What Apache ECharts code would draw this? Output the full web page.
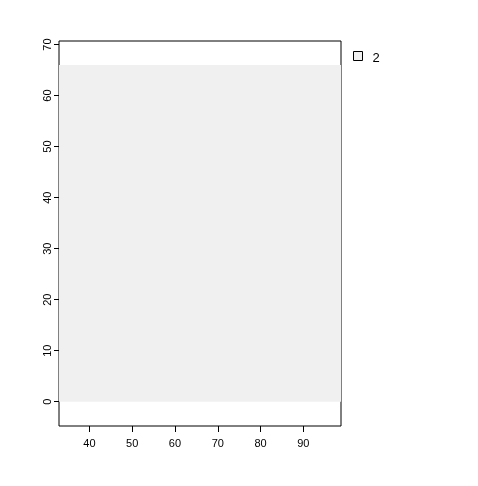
<!DOCTYPE html>
<html>
<head>
<meta charset="utf-8">
<script src="https://cdn.jsdelivr.net/npm/echarts@6/dist/echarts.min.js"></script>
<style>html,body{margin:0;padding:0;background:#fff;}#c{width:478px;height:486px;}</style>
</head>
<body>
<div id="c"></div>
<script>
var xTicks = [40, 50, 60, 70, 80, 90];
var yTicks = [0, 10, 20, 30, 40, 50, 60, 70];
var xRange = [32.9, 98.8];
var yRange = [-4.76, 70.7];
var seriesName = '2';
var areaX = [32.9, 98.8];
var areaY = [0, 66];

var chart = echarts.init(document.getElementById('c'), null, {renderer: 'canvas'});
var font = 'Liberation Sans, Arial, sans-serif';
chart.setOption({
  animation: false,
  backgroundColor: '#ffffff',
  grid: {left: 59, right: 137, top: 41, bottom: 60, show: true, borderColor: '#000', borderWidth: 1, backgroundColor: 'transparent'},
  legend: {
    left: 353, top: 51, padding: 0, itemWidth: 9, itemHeight: 9,
    data: [{name: seriesName, icon: 'rect', itemStyle: {color: '#f0f0f0', borderColor: '#000', borderWidth: 1}}],
    formatter: function (n) { return '{a|' + n + '}'; },
    textStyle: {fontFamily: font, fontSize: 13, color: '#000',
      rich: {a: {fontFamily: font, fontSize: 13, color: '#000', padding: [5, 0, 0, 5]}}}
  },
  xAxis: {
    type: 'value', min: xRange[0], max: xRange[1],
    splitLine: {show: false},
    axisLine: {show: false, onZero: false},
    axisTick: {show: true, inside: false, length: 6, lineStyle: {color: '#000'}, customValues: xTicks},
    axisLabel: {fontFamily: font, fontSize: 11, color: '#000', margin: 12, customValues: xTicks}
  },
  yAxis: {
    type: 'value', min: yRange[0], max: yRange[1],
    splitLine: {show: false},
    axisLine: {show: false, onZero: false},
    axisTick: {show: true, inside: false, length: 5, lineStyle: {color: '#000'}, customValues: yTicks},
    axisLabel: {fontFamily: font, fontSize: 11, color: '#000', margin: 6, rotate: 90, customValues: yTicks}
  },
  series: [{
    name: seriesName,
    type: 'line',
    data: [],
    itemStyle: {color: '#f0f0f0'},
    lineStyle: {width: 0},
    markArea: {
      silent: true,
      itemStyle: {color: '#f0f0f0', borderWidth: 0},
      data: [[{xAxis: areaX[0], yAxis: areaY[0]}, {xAxis: areaX[1], yAxis: areaY[1]}]]
    }
  }]
});
</script>
</body>
</html>
